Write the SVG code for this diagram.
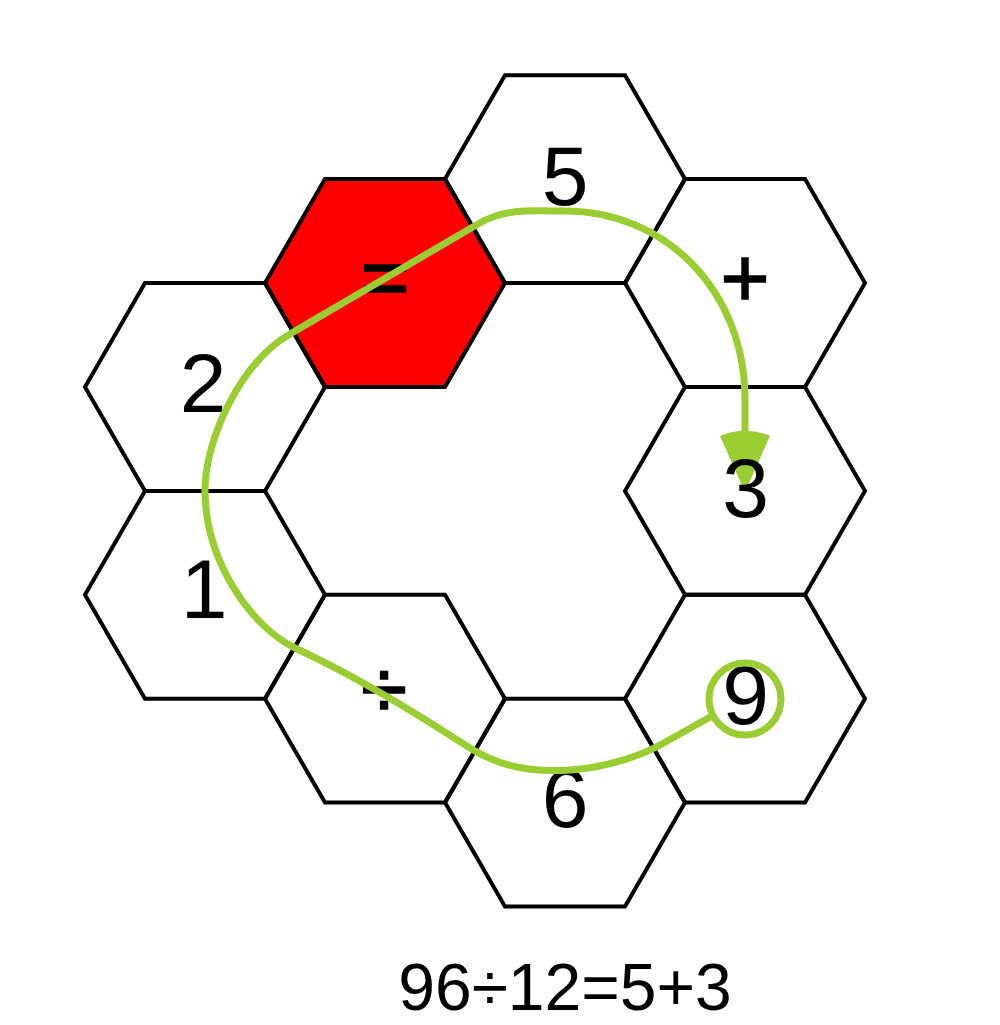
<svg xmlns="http://www.w3.org/2000/svg" width="1000" height="1025" viewBox="0 0 1000 1025">
<style>
.hex{fill:none;stroke:#000;stroke-width:4;stroke-linejoin:miter;stroke-linecap:round}
.red{fill:#ff0000}
.lbl{font-family:"Liberation Sans",Arial,Helvetica,sans-serif;font-size:84px;fill:#000;text-anchor:middle}
.sym{stroke:#000;stroke-width:1.5}
.eq{font-family:"Liberation Sans",Arial,Helvetica,sans-serif;font-size:66px;fill:#000;text-anchor:middle}
.path{fill:none;stroke:#9acd32;stroke-width:7}
</style>
<defs>
<marker id="wedge" markerUnits="userSpaceOnUse" markerWidth="70" markerHeight="70" viewBox="-2 -35 70 70" refX="9" refY="0" orient="auto">
<path d="M61,0 L5,-25 A61.3,61.3 0 0 0 5,25 Z" fill="#9acd32"/>
</marker>
</defs>
<rect width="1000" height="1025" fill="#fff"/>
<g id="node-eq">
<polygon class="hex red" points="265,283 325,179.1 445,179.1 505,283 445,386.9 325,386.9"/>
<text class="lbl sym" x="385" y="306">=</text>
</g>
<g id="node-5">
<polygon class="hex" points="445,179.1 505,75.2 625,75.2 685,179.1 625,283 505,283"/>
<text class="lbl" x="565" y="205">5</text>
</g>
<g id="node-plus">
<polygon class="hex" points="625,283 685,179.1 805,179.1 865,283 805,386.9 685,386.9"/>
<text class="lbl sym" x="745" y="306">+</text>
</g>
<g id="node-2">
<polygon class="hex" points="85,386.9 145,283 265,283 325,386.9 265,490.9 145,490.9"/>
<text class="lbl" x="203" y="412">2</text>
</g>
<g id="node-1">
<polygon class="hex" points="85,594.8 145,490.9 265,490.9 325,594.8 265,698.7 145,698.7"/>
<text class="lbl" x="204" y="618">1</text>
</g>
<g id="node-div">
<polygon class="hex" points="265,698.7 325,594.8 445,594.8 505,698.7 445,802.6 325,802.6"/>
<text class="lbl sym" x="384" y="718">÷</text>
</g>
<g id="node-9">
<polygon class="hex" points="625,698.7 685,594.8 805,594.8 865,698.7 805,802.6 685,802.6"/>
<text class="lbl" x="745.5" y="724">9</text>
</g>
<g id="node-6">
<polygon class="hex" points="445,802.6 505,698.7 625,698.7 685,802.6 625,906.5 505,906.5"/>
<text class="lbl" x="565" y="827">6</text>
</g>
<g id="connectors">
<circle class="path" cx="745" cy="699" r="36"/>
<path class="path" marker-end="url(#wedge)" d="M712,716 L660,745 C620,767 532,788 470,748 C420,716 360,678 295,648 C250,626 205,560 205,490 C205,440 240,363 290,334 L478,224 C505,208 530,211 565,211 C665,211 745,290 745,400 L745,440"/>
</g>
<g id="node-3">
<path class="hex" d="M805,386.9 L865,490.9 L805,594.8 L685,594.8 L625,490.9 L685,386.9"/>
<text class="lbl" x="745.5" y="517">3</text>
</g>
<text class="eq" x="565" y="1010">96÷12=5+3</text>
</svg>
